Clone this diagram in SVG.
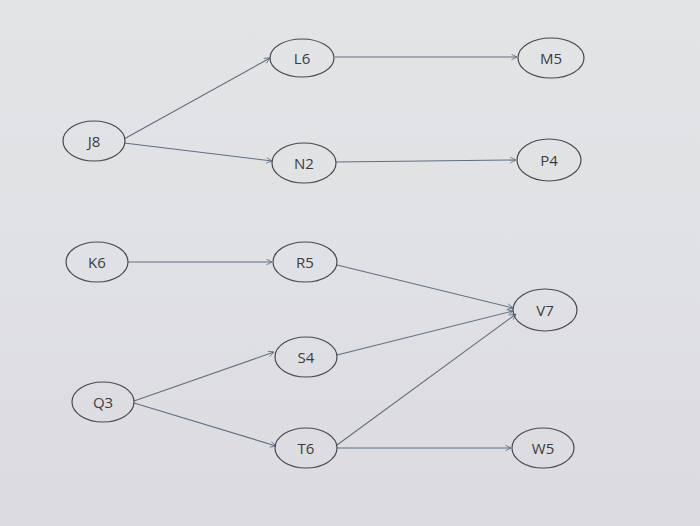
<svg xmlns="http://www.w3.org/2000/svg" width="700" height="526" viewBox="0 0 700 526">
<defs>
<linearGradient id="bg" x1="0" y1="0" x2="0" y2="1">
<stop offset="0" stop-color="#e2e4e6"/>
<stop offset="0.5" stop-color="#e0e1e4"/>
<stop offset="1" stop-color="#dcdbe0"/>
</linearGradient>
<marker id="arr" viewBox="0 0 10 10" refX="9" refY="5" markerWidth="7" markerHeight="7" orient="auto" markerUnits="userSpaceOnUse">
<path d="M1,1 L9,5 L1,9" fill="none" stroke="#5f6f82" stroke-width="1.2"/>
</marker>
</defs>
<style>
.node ellipse{fill:none;stroke:#4a4a4e;stroke-width:1.2}
.node text{font-family:"Open Sans","Liberation Sans",sans-serif;font-size:15px;fill:#3c3c40;text-anchor:middle;dominant-baseline:central}
#edges line{stroke:#5f6f82;stroke-width:1.1;marker-end:url(#arr)}
</style>
<rect width="700" height="526" fill="url(#bg)"/>
<g id="edges">
<line x1="124" y1="139" x2="270" y2="58"/>
<line x1="124" y1="143" x2="272" y2="161"/>
<line x1="335" y1="57" x2="517" y2="57"/>
<line x1="336" y1="162" x2="516" y2="160"/>
<line x1="128" y1="262" x2="272" y2="262"/>
<line x1="337" y1="265" x2="513" y2="308"/>
<line x1="337" y1="355" x2="513" y2="311"/>
<line x1="134" y1="401" x2="274" y2="352"/>
<line x1="134" y1="403" x2="276" y2="446"/>
<line x1="337" y1="445" x2="516" y2="314"/>
<line x1="337" y1="448" x2="511" y2="448"/>
</g>
<g id="J8" class="node"><ellipse cx="94" cy="141" rx="31" ry="20"/><text x="94" y="141">J8</text></g>
<g id="L6" class="node"><ellipse cx="302" cy="58" rx="32" ry="19"/><text x="302" y="58">L6</text></g>
<g id="M5" class="node"><ellipse cx="551" cy="58" rx="33" ry="20"/><text x="551" y="58">M5</text></g>
<g id="N2" class="node"><ellipse cx="304" cy="163" rx="32" ry="20"/><text x="304" y="163">N2</text></g>
<g id="P4" class="node"><ellipse cx="549" cy="160" rx="32" ry="21"/><text x="549" y="160">P4</text></g>
<g id="K6" class="node"><ellipse cx="97" cy="262" rx="31" ry="20"/><text x="97" y="262">K6</text></g>
<g id="R5" class="node"><ellipse cx="305" cy="262" rx="32" ry="20"/><text x="305" y="262">R5</text></g>
<g id="V7" class="node"><ellipse cx="545" cy="310" rx="32" ry="21"/><text x="545" y="310">V7</text></g>
<g id="S4" class="node"><ellipse cx="306" cy="357" rx="31" ry="20"/><text x="306" y="357">S4</text></g>
<g id="Q3" class="node"><ellipse cx="103" cy="402" rx="31" ry="20"/><text x="103" y="402">Q3</text></g>
<g id="T6" class="node"><ellipse cx="306" cy="448" rx="31" ry="20"/><text x="306" y="448">T6</text></g>
<g id="W5" class="node"><ellipse cx="543" cy="448" rx="31" ry="20"/><text x="543" y="448">W5</text></g>
</svg>
